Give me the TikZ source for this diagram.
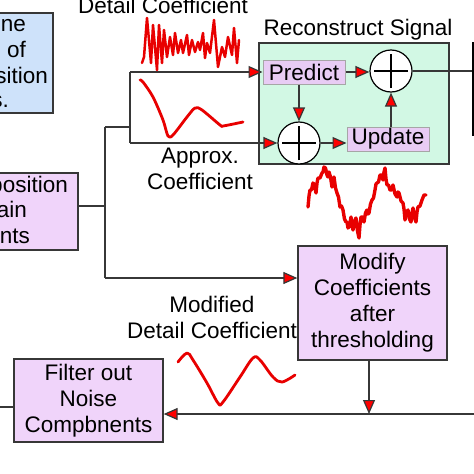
\documentclass[tikz,border=0pt]{standalone}
\usepackage{fontspec}
\setmainfont{Liberation Sans}
\usetikzlibrary{arrows.meta}
\usetikzlibrary{positioning}
\definecolor{lavbox}{RGB}{240,212,250}
\definecolor{stagebox}{RGB}{232,204,244}
\definecolor{bluebox}{RGB}{206,226,250}
\definecolor{greenbox}{RGB}{210,248,228}
\definecolor{sigred}{RGB}{232,0,0}
\definecolor{edgegray}{RGB}{55,55,55}

\tikzset{
  txt/.style={font=\fontsize{22.5}{26}\selectfont, align=center, inner sep=0pt},
  box/.style={txt, draw=edgegray, line width=1.3pt, rectangle},
  stage/.style={txt, draw=gray!70, fill=stagebox, line width=1pt,
    minimum width=82pt, minimum height=24pt},
  adder/.style={circle, draw, fill=white, minimum size=42pt, inner sep=0pt, line width=1.2pt,
    path picture={
      \draw[line width=1.3pt] ([xshift=-17pt]path picture bounding box.center) -- ([xshift=17pt]path picture bounding box.center)
        ([yshift=-17pt]path picture bounding box.center) -- ([yshift=17pt]path picture bounding box.center);}},
  sig/.style={sigred, line width=2.8pt, line join=round, line cap=round},
  tip/.style={-{Triangle[length=14pt,width=12pt,fill=red]}},
  wire/.style={line width=1.2pt, edgegray},
}

\begin{document}
\begin{tikzpicture}[x=1pt, y=-1pt]

\useasboundingbox (0,0) rectangle (474,474);
\clip (0,0) rectangle (474,474);

% left boxes (cut by the page edge)
\node[box, fill=bluebox, minimum width=133pt, minimum height=100pt] (levels) at (-13.5,63) {};
\node[txt, anchor=base east] (levA) at (26,31) {ne};
\node[txt, anchor=base east] (levB) at (26,57) {of};
\node[txt, anchor=base east] (levC) at (48,83) {sition};
\node[txt, anchor=base east] (levD) at (9,107) {s.};

\node[box, fill=lavbox, minimum width=158pt, minimum height=77pt] (decomp) at (-1,211.5) {};
\node[txt, anchor=base east] (decA) at (68,192) {position};
\node[txt, anchor=base east] (decB) at (27,217) {ain};
\node[txt, anchor=base east] (decC) at (30,243) {nts};

% reconstruction block
\node[box, fill=greenbox, minimum width=190pt, minimum height=121pt] (recon) at (354,103.5) {};
\node[txt, anchor=base] (reconlbl) at (358,35) {Reconstruct Signal};
\node[stage] (predict) at (304,72) {Predict};
\node[stage] (update) at (388,139) {Update};
\node[adder] (upadd) at (391,71) {};
\node[adder] (lowadd) at (299,143) {};
\node[box, draw=black, line width=2.2pt, minimum width=70pt, minimum height=92pt] (outbox) at (508,89) {};

% thresholding and filtering
\node[box, fill=lavbox, minimum width=149pt, minimum height=114pt] (modify) at (372.5,303) {Modify\\Coefficients\\after\\thresholding};
\node[box, fill=lavbox, minimum width=149pt, minimum height=83pt] (filter) at (88.5,400.5) {Filter out\\Noise\\Compbnents};

% labels
\node[txt, anchor=base] (detlbl) at (163,13) {Detail Coefficient};
\node[txt] (applbl) at (200,169) {Approx.\\Coefficient};
\node[txt] (modlbl) at (212,317) {Modified\\Detail Coefficient};

% wires
\coordinate (fork) at (105,206);
\coordinate (forkA) at (105,127);
\coordinate (forkB) at (105,278);
\coordinate (tap) at (130,127);
\coordinate (tapU) at (130,72);
\coordinate (tapD) at (130,143);
\coordinate (busR) at (474,414);
\coordinate (busL) at (0,407);

\draw[wire] (decomp.east |- fork) -- (fork);
\draw[wire] (forkA) -- (forkB);
\draw[wire] (forkA) -- (tap);
\draw[wire] (tapU) -- (tapD);
\draw[wire, tip] (tapU) -- (predict.west);
\draw[wire, tip] (tapD) -- (lowadd.west);
\draw[wire, tip] (forkB) -- (forkB -| modify.west);

\draw[wire, tip] (predict.east) -- (predict.east -| upadd.west);
\draw[wire, tip] (lowadd |- predict.south) -- (lowadd.north);
\draw[wire, tip] (lowadd.east) -- (lowadd.east -| update.west);
\draw[wire, tip] (upadd |- update.north) -- (upadd.south);
\draw[wire] (upadd.east) -- (upadd.east -| outbox.west);

\draw[wire, tip] ([xshift=-3.5pt]modify.south) -- ([xshift=-3.5pt]modify.south |- busR);
\draw[wire, tip] (busR) -- (filter.east |- busR);
\draw[wire] (filter.west |- busL) -- (busL);

% signals
\draw[sig, line width=2.5pt] plot coordinates {
  (142,63) (144,57) (147,18) (151,63) (153,25) (157,70) (159,25) (162,63)
  (164,30) (167,57) (170,37) (173,55) (175,33) (178,53) (181,40) (183,53)
  (187,35) (189,55) (192,40) (195,52) (198,42) (200,50) (203,33) (205,58)
  (207,43) (210,53) (214,20) (218,67) (222,47) (225,57) (228,37) (232,55)
  (234,28) (237,63) (239,40)};

\draw[sig] plot[smooth, tension=0.5] coordinates {
  (140,80) (143,82) (153,97) (163,120) (168,136) (173,135) (187,117)
  (195,108) (202,110) (220,125) (223,126) (243,122)};

\draw[sig, line width=3.4pt] plot coordinates {
  (308,207) (309,196) (310,190) (311.5,190) (313,183) (314.5,185) (316,193)
  (317,183) (318,178) (320,178) (322,173) (323,172) (324,167) (325.5,168)
  (327,175) (328,177) (329,172) (330.5,177) (332,187) (333,184) (334,177)
  (335.5,188) (337,193) (338.5,197) (340,207) (341.5,206) (343,210)
  (344.5,219) (346,222) (347,222) (348,228) (349.5,226) (351,217) (352,226)
  (353,230) (354.5,221) (356,218) (357.5,231) (359,238) (360,225) (361,217)
  (362.5,217) (364,222) (365.5,213) (367,210) (368,214) (369,213)
  (370.5,204) (372,200) (373.5,198) (375,190) (376,184) (377,183)
  (378.5,182) (380,175) (381.5,175) (383,180) (384,172) (385,168)
  (386,179) (387,185) (388.5,185) (390,190) (391.5,190) (393,185)
  (395,194) (397,197) (398,192) (399,193) (401,201) (403,203) (404,209)
  (405,220) (406.5,212) (408,210) (409.5,219) (411,222) (412,213)
  (413,208) (414.5,218) (416,222) (417,212) (418,207) (420,206)
  (422,200) (424,195) (426,195)};

\draw[sig] plot[smooth, tension=0.6] coordinates {
  (178,362) (187,353) (193,360) (207,383) (218,403) (223,402) (240,377)
  (253,358) (260,360) (273,377) (282,382) (295,375)};

\end{tikzpicture}
\end{document}
